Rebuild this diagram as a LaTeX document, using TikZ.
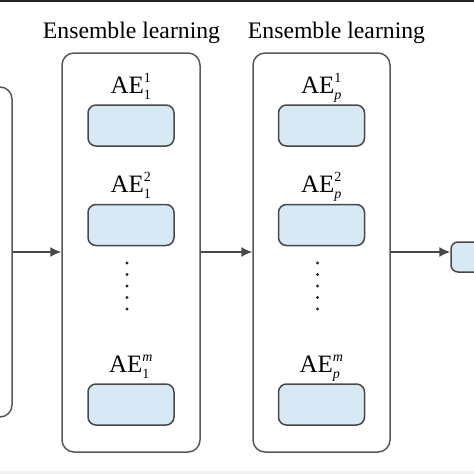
\documentclass[tikz,border=0pt]{standalone}
\usepackage{amsmath}
\usepackage{fontspec}
\setmainfont{Liberation Serif}
\usetikzlibrary{positioning,arrows.meta}

\definecolor{aeblue}{RGB}{214,233,245}
\definecolor{aegray}{RGB}{72,72,72}
\definecolor{boxgray}{RGB}{88,88,88}
\definecolor{topbar}{RGB}{38,38,38}
\definecolor{footgray}{RGB}{243,243,243}
\DeclareMathSizes{25}{25}{14}{10}

% AE with sub- and superscript in the text font
\newcommand\aelab[2]{$\text{AE}_{\text{#1}}^{\text{#2}}$}

\begin{document}
\begin{tikzpicture}[
    x=1pt, y=-1pt, line width=1.5pt,
    ens/.style={draw=boxgray, rounded corners=12pt, minimum width=138pt, minimum height=399pt},
    aebox/.style={draw=aegray, fill=aeblue, rounded corners=8pt, minimum width=86pt, minimum height=41pt},
    lbl/.style={font=\fontsize{25}{28}\selectfont, inner sep=0pt, anchor=base},
    ttl/.style={font=\fontsize{23.7}{27}\selectfont, inner sep=0pt, anchor=base},
    link/.style={draw=aegray, -{Latex[length=11pt,width=10pt]}}]
  \useasboundingbox (0,0) rectangle (474,474);
  \clip (0,0) rectangle (474,474);
  \fill[topbar] (0,0) rectangle (474,2);
  \fill[footgray] (0,471) rectangle (474,474);

  \node[ens, minimum width=64pt, minimum height=330pt] (input) at (-20,252) {};
  \node[ens] (ens-1) at (131,252.5) {};
  \node[ens, minimum width=137pt] (ens-p) at (321.5,252.5) {};
  \node[aebox, rounded corners=7pt, minimum width=69pt, minimum height=30pt] (out) at (485.5,257) {};

  \node[ttl] (ttl-1) at (131.5,38.5) {Ensemble learning};
  \node[ttl] (ttl-p) at (336.5,38.5) {Ensemble learning};

  \foreach \b/\s in {1/1, p/\textit{p}}
  \foreach \r/\t/\y in {1/1/125.5, 2/2/225, m/\textit{m}/404.5} {
    \node[aebox] (ae-\b-\r) at (ens-\b.center |- 0,\y) {};
    \node[lbl] (lab-\b-\r) at ([yshift=11pt]ae-\b-\r.north) {\aelab{\s}{\t}};
  }

  \foreach \b in {1,p}
  \foreach \k in {0,...,4}
  \fill[black!85] ([xshift=-4pt, yshift={-10.5pt-11.5pt*\k}]ens-\b.center) circle (1.7pt);

  \draw[link] (input.east |- 0,252) -- (ens-1.west |- 0,252);
  \draw[link] (ens-1.east |- 0,252) -- (ens-p.west |- 0,252);
  \draw[link] (ens-p.east |- 0,252) -- (out.west |- 0,252);
\end{tikzpicture}
\end{document}
